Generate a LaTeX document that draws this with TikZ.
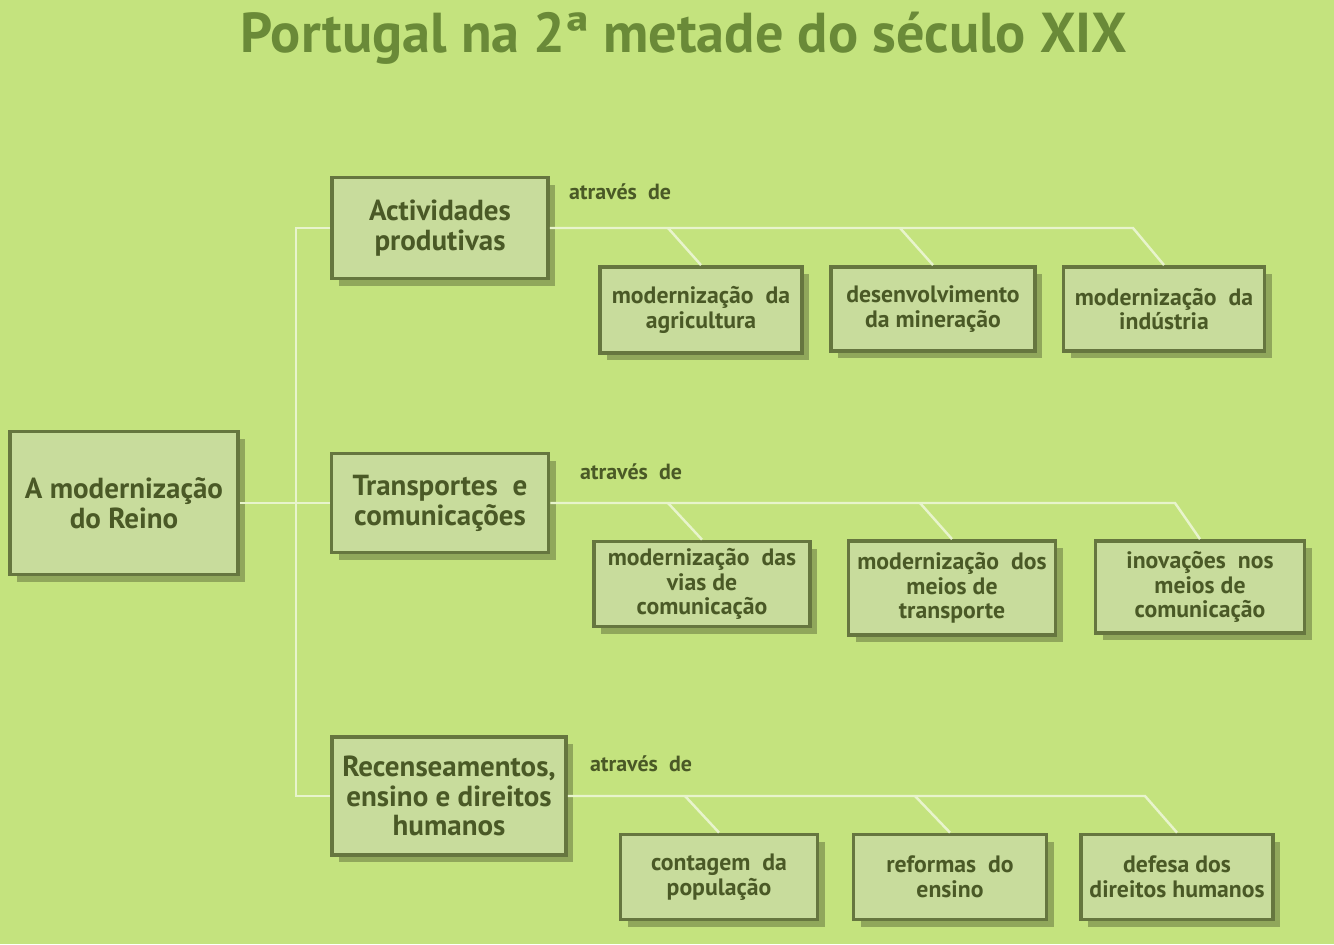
\documentclass[tikz,border=0pt]{standalone}
\usepackage{fontspec}
\setmainfont{PT Sans}
\usetikzlibrary{shadows}

\definecolor{fundo}{HTML}{C4E37E}
\definecolor{titulo}{HTML}{6A8A38}
\definecolor{caixa}{HTML}{C8DC9C}
\definecolor{borda}{HTML}{66763F}
\definecolor{texto}{HTML}{4A5926}
\definecolor{ligacao}{HTML}{E8F4CC}

\tikzset{
  caixa/.style={draw=borda, line width=2.2pt, fill=caixa, text=texto,
    align=center, inner sep=2pt,
    drop shadow={shadow xshift=4pt, shadow yshift=-4pt, opacity=0.45, fill=borda!80!black}},
  grande/.style={caixa, font=\fontsize{16.5}{17}\selectfont\bfseries},
  pequena/.style={caixa, font=\fontsize{13.5}{14}\selectfont\bfseries},
  liga/.style={draw=ligacao, line width=1.4pt},
  rotulo/.style={text=texto, font=\fontsize{12.5}{12}\selectfont\bfseries}
}

\begin{document}
\begin{tikzpicture}[x=0.02cm, y=-0.02cm]

% the space
\fill[fundo] (0,0) rectangle (1334,944);
\useasboundingbox (0,0) rectangle (1334,944);

% title
\node[text=titulo, font=\fontsize{32}{34}\selectfont\bfseries] (titulo) at (684,38) {Portugal na 2ª metade do século XIX};

% the boxes
\node[grande, minimum width=4.56cm, minimum height=2.86cm] (reino) at (124,503) {A modernização\\do Reino};

\node[grande, minimum width=4.32cm, minimum height=2.02cm] (activ) at (440,228) {Actividades\\produtivas};
\node[grande, minimum width=4.34cm, minimum height=1.98cm] (transp) at (440,503) {Transportes\ \ e\\comunicações};
\node[grande, minimum width=4.68cm, minimum height=2.36cm] (recens) at (449,796) {Recenseamentos,\\ensino e direitos\\humanos};

\node[pequena, minimum width=4.04cm, minimum height=1.72cm] (agric) at (701,310) {modernização\ \ da\\agricultura};
\node[pequena, minimum width=4.08cm, minimum height=1.68cm] (miner) at (933,309) {desenvolvimento\\da mineração};
\node[pequena, minimum width=4.02cm, minimum height=1.68cm] (indust) at (1164,309) {modernização\ \ da\\indústria};

\node[pequena, minimum width=4.32cm, minimum height=1.70cm] (vias) at (702,584) {modernização\ \ das\\vias de\\comunicação};
\node[pequena, minimum width=4.14cm, minimum height=1.88cm] (meios) at (952,588) {modernização\ \ dos\\meios de\\transporte};
\node[pequena, minimum width=4.18cm, minimum height=1.84cm] (inov) at (1200,587) {inovações\ \ nos\\meios de\\comunicação};

\node[pequena, minimum width=3.94cm, minimum height=1.70cm] (contag) at (719,877) {contagem\ \ da\\população};
\node[pequena, minimum width=3.86cm, minimum height=1.70cm] (ensino) at (950,877) {reformas\ \ do\\ensino};
\node[pequena, minimum width=3.84cm, minimum height=1.70cm] (direitos) at (1177,877) {defesa dos\\direitos humanos};

% labels
\node[rotulo] (lbA) at (620,192) {através\ \ de};
\node[rotulo] (lbT) at (631,472) {através\ \ de};
\node[rotulo] (lbR) at (641,764) {através\ \ de};

% branch points
\coordinate (tronco) at (296,503);
\coordinate (a1) at (668,228);
\coordinate (a2) at (900,228);
\coordinate (a3) at (1133,228);
\coordinate (t1) at (668,503);
\coordinate (t2) at (920,503);
\coordinate (t3) at (1175,503);
\coordinate (r1) at (685,796);
\coordinate (r2) at (915,796);
\coordinate (r3) at (1145,796);

% the connectors
\draw[liga] (reino.east) -- (tronco) -- (transp.west);
\draw[liga] (activ.west) -| (tronco) |- (recens.west);

\draw[liga] (activ.east) -- (a3) -- (indust.north);
\draw[liga] (a1) -- (agric.north);
\draw[liga] (a2) -- (miner.north);

\draw[liga] (transp.east) -- (t3) -- (inov.north);
\draw[liga] (t1) -- (vias.north);
\draw[liga] (t2) -- (meios.north);

\draw[liga] (recens.east) -- (r3) -- (direitos.north);
\draw[liga] (r1) -- (contag.north);
\draw[liga] (r2) -- (ensino.north);

\end{tikzpicture}
\end{document}
